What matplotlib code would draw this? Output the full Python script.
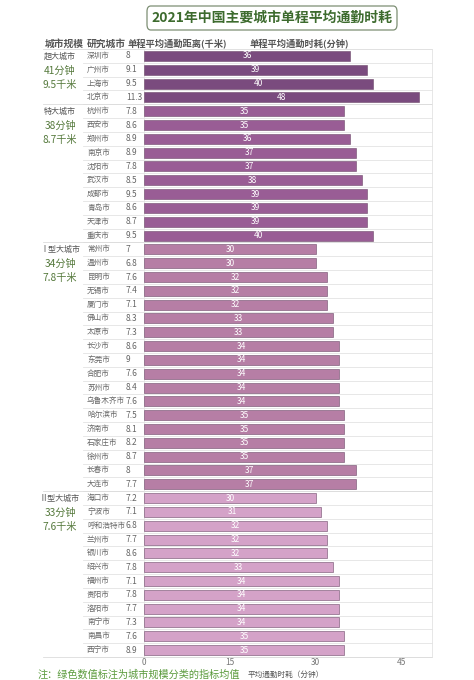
import matplotlib
matplotlib.use("Agg")
import matplotlib.pyplot as plt
import matplotlib.transforms as mtransforms
from matplotlib.patches import FancyBboxPatch

plt.rcParams['font.family'] = ['Noto Sans CJK SC', 'DejaVu Sans']

groups = ["超大城市", "特大城市", "Ⅰ型大城市", "Ⅱ型大城市"]
group_time = ["41分钟", "38分钟", "34分钟", "33分钟"]
group_dist = ["9.5千米", "8.7千米", "7.8千米", "7.6千米"]
group_colors = ["#7a4b7e", "#995d95", "#b67ea5", "#d4a2c8"]

cities_1 = ["深圳市", "广州市", "上海市", "北京市"]
dist_1 = [8, 9.1, 9.5, 11.3]
time_1 = [36, 39, 40, 48]

cities_2 = ["杭州市", "西安市", "郑州市", "南京市", "沈阳市", "武汉市", "成都市", "青岛市", "天津市", "重庆市"]
dist_2 = [7.8, 8.6, 8.9, 8.9, 7.8, 8.5, 9.5, 8.6, 8.7, 9.5]
time_2 = [35, 35, 36, 37, 37, 38, 39, 39, 39, 40]

cities_3 = ["常州市", "温州市", "昆明市", "无锡市", "厦门市", "佛山市", "太原市", "长沙市", "东莞市",
            "合肥市", "苏州市", "乌鲁木齐市", "哈尔滨市", "济南市", "石家庄市", "徐州市", "长春市", "大连市"]
dist_3 = [7, 6.8, 7.6, 7.4, 7.1, 8.3, 7.3, 8.6, 9, 7.6, 8.4, 7.6, 7.5, 8.1, 8.2, 8.7, 8, 7.7]
time_3 = [30, 30, 32, 32, 32, 33, 33, 34, 34, 34, 34, 34, 35, 35, 35, 35, 37, 37]

cities_4 = ["海口市", "宁波市", "呼和浩特市", "兰州市", "银川市", "绍兴市", "福州市", "贵阳市",
            "洛阳市", "南宁市", "南昌市", "西宁市"]
dist_4 = [7.2, 7.1, 6.8, 7.7, 8.6, 7.8, 7.1, 7.8, 7.7, 7.3, 7.6, 8.9]
time_4 = [30, 31, 32, 32, 32, 33, 34, 34, 34, 34, 35, 35]

xticks = [0, 15, 30, 45]

all_cities = [cities_1, cities_2, cities_3, cities_4]
all_dist = [dist_1, dist_2, dist_3, dist_4]
all_time = [time_1, time_2, time_3, time_4]

W, H = 474, 680
fig = plt.figure(figsize=(W / 100, H / 100), dpi=100)
ax = fig.add_axes([144 / W, 1 - 657 / H, (432 - 144) / W, (657 - 49) / H])

n_total = sum(len(c) for c in all_cities)
# x in figure fraction, y in data rows
trans = mtransforms.blended_transform_factory(fig.transFigure, ax.transData)

row = 0
for gi in range(4):
    start = row
    for city, d, t in zip(all_cities[gi], all_dist[gi], all_time[gi]):
        ax.barh(row, t, height=0.72, color=group_colors[gi], edgecolor="#6e4a6a", linewidth=0.4, zorder=3)
        ax.text(t / 2, row, str(t), ha="center", va="center", color="white", fontsize=6, zorder=4)
        ax.text(87 / W, row, city, transform=trans, ha="left", va="center", fontsize=5.5, color="#666666")
        ax.text(126 / W, row, f"{d:g}", transform=trans, ha="left", va="center", fontsize=6, color="#666666")
        ax.plot([83 / W, 432 / W], [row + 0.5, row + 0.5], transform=trans, color="#e3e3e3",
                linewidth=0.6, clip_on=False, zorder=1)
        row += 1
    # group boundary lines reach the size column
    ax.plot([43 / W, 432 / W], [start - 0.5, start - 0.5], transform=trans, color="#dcdcdc",
            linewidth=0.6, clip_on=False, zorder=1)
    ax.text(60 / W, start, groups[gi], transform=trans, ha="center", va="center", fontsize=5.8, color="#555555")
    ax.text(60 / W, start + 1.05, group_time[gi], transform=trans, ha="center", va="center", fontsize=7.3,
            color="#55793c")
    ax.text(60 / W, start + 2.1, group_dist[gi], transform=trans, ha="center", va="center", fontsize=7.3,
            color="#55793c")
ax.plot([43 / W, 432 / W], [n_total - 0.5, n_total - 0.5], transform=trans, color="#dcdcdc",
        linewidth=0.6, clip_on=False, zorder=1)

ax.set_xlim(0, 50.3)
ax.set_ylim(n_total - 0.5, -0.5)
ax.set_xticks(xticks)
ax.set_yticks([])
ax.tick_params(axis="x", length=0, labelsize=6, colors="#777777", pad=1)
for side in ["top", "left", "bottom"]:
    ax.spines[side].set_visible(False)
ax.spines["right"].set_color("#e3e3e3")
ax.spines["right"].set_linewidth(0.6)
ax.axvline(0, color="#e3e3e3", linewidth=0.6, zorder=1)

# headers
hy = 1 - 44 / H
fig.text(45 / W, hy, "城市规模", ha="left", va="center", fontsize=7, color="#555555", fontweight="bold")
fig.text(87 / W, hy, "研究城市", ha="left", va="center", fontsize=7, color="#555555", fontweight="bold")
fig.text(128 / W, hy, "单程平均通勤距离(千米)", ha="left", va="center", fontsize=6.7, color="#555555",
         fontweight="bold")
fig.text(250 / W, hy, "单程平均通勤时耗(分钟)", ha="left", va="center", fontsize=6.7, color="#555555",
         fontweight="bold")

# title box
box = FancyBboxPatch((147 / W, 1 - 30 / H), (397 - 147) / W, 24 / H,
                     boxstyle="round,pad=0,rounding_size=0.008", transform=fig.transFigure,
                     facecolor="white", edgecolor="#7d8f74", linewidth=0.9)
fig.patches.append(box)
fig.text(272 / W, 1 - 18 / H, "2021年中国主要城市单程平均通勤时耗", ha="center", va="center",
         fontsize=10, fontweight="bold", color="#3d6b2e")

fig.text(38 / W, 1 - 675 / H, "注：绿色数值标注为城市规模分类的指标均值", ha="left", va="center",
         fontsize=7.3, color="#5a9a3c")
fig.text(286 / W, 1 - 675 / H, "平均通勤时耗（分钟）", ha="center", va="center", fontsize=5.5, color="#555555")

fig.savefig("out.png", dpi=100)
